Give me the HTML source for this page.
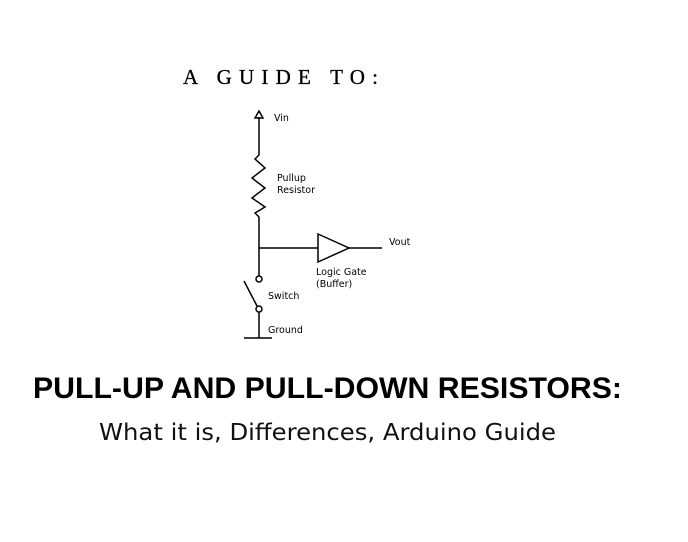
<!DOCTYPE html>
<html><head><style>html,body{margin:0;padding:0;background:#fff;width:688px;height:542px;overflow:hidden}</style></head>
<body>
<svg width="688" height="542" viewBox="0 0 688 542" xmlns="http://www.w3.org/2000/svg">
<rect width="688" height="542" fill="#fff"/>
<text x="183" y="84" font-family="Liberation Serif, serif" font-size="21" textLength="195" lengthAdjust="spacing" fill="#000" stroke="#000" stroke-width="0.3">A GUIDE TO:</text>
<g stroke="#000" stroke-width="1.5" fill="none">
<path d="M259 117 L259 155 L255 159 L265 168 L252 178 L265 188 L252 198 L265 207 L255 213 L259 217 L259 276"/>
<path d="M255 118 L259 111 L263 118 Z"/>
<path d="M259 248 L318 248"/>
<path d="M318 234 L349 248 L318 262 Z"/>
<path d="M349 248 L382 248"/>
<circle cx="259" cy="279" r="3"/>
<path d="M244 281 L257 306"/>
<circle cx="259" cy="309" r="3"/>
<path d="M259 312 L259 338 M244 338 L272 338"/>
</g>
<g font-family="DejaVu Sans, sans-serif" font-size="9.5" fill="#000">
<text x="274" y="121">Vin</text>
<text x="277" y="181">Pullup</text>
<text x="277" y="193">Resistor</text>
<text x="389" y="245">Vout</text>
<text x="316" y="275">Logic Gate</text>
<text x="316" y="287">(Buffer)</text>
<text x="268" y="299">Switch</text>
<text x="268" y="333">Ground</text>
</g>
<text x="33" y="398" font-family="Liberation Sans, sans-serif" font-weight="bold" font-size="30" textLength="589" lengthAdjust="spacingAndGlyphs" fill="#000">PULL-UP AND PULL-DOWN RESISTORS:</text>
<text x="99" y="440" font-family="DejaVu Sans, sans-serif" font-weight="normal" font-size="23" textLength="457" lengthAdjust="spacingAndGlyphs" fill="#111">What it is, Differences, Arduino Guide</text>
</svg>
</body></html>
